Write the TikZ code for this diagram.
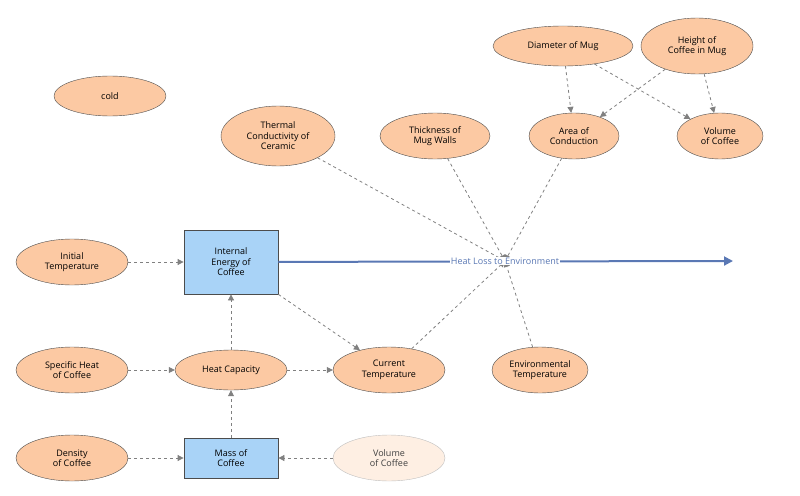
\documentclass[tikz,border=0pt]{standalone}
\usepackage{fontspec}
\setmainfont{Open Sans}
\usetikzlibrary{arrows.meta}
\definecolor{ov}{HTML}{FCC9A3}
\definecolor{bx}{HTML}{A9D3F7}
\definecolor{fl}{HTML}{5A78B4}
\begin{document}
\begin{tikzpicture}[x=1pt,y=-1pt,font=\fontsize{9}{10.5}\selectfont,
 v/.style={ellipse,draw=black!70,fill=ov,align=center,inner sep=1pt},
 s/.style={rectangle,draw=black!70,fill=bx,align=center,thick},
 d/.style={draw=gray,dashed,thick,-{Triangle[length=6pt,width=6pt]}}]
\usetikzlibrary{shapes.geometric}
\useasboundingbox (0,0) rectangle (800,495);
\node[v,minimum width=112,minimum height=40] (cold) at (110,96) {cold};
\node[v,minimum width=114,minimum height=60] (th) at (278,136) {Thermal\\Conductivity of\\Ceramic};
\node[v,minimum width=110,minimum height=46] (tk) at (435,136) {Thickness of\\Mug Walls};
\node[v,minimum width=140,minimum height=40] (dm) at (563,46) {Diameter of Mug};
\node[v,minimum width=112,minimum height=56] (hm) at (697,46) {Height of\\Coffee in Mug};
\node[v,minimum width=90,minimum height=46] (ar) at (574,136) {Area of\\Conduction};
\node[v,minimum width=86,minimum height=46] (vt) at (720,136) {Volume\\of Coffee};
\node[v,minimum width=112,minimum height=46] (it) at (72,262) {Initial\\Temperature};
\node[s,minimum width=94,minimum height=64] (ie) at (231,262) {Internal\\Energy of\\Coffee};
\coordinate (valve) at (505,261);
\coordinate (sink) at (733,261);
\node[v,minimum width=112,minimum height=46] (sh) at (72,370) {Specific Heat\\of Coffee};
\node[v,minimum width=112,minimum height=40] (hc) at (231,370) {Heat Capacity};
\node[v,minimum width=112,minimum height=46] (ct) at (389,370) {Current\\Temperature};
\node[v,minimum width=96,minimum height=46] (et) at (540,370) {Environmental\\Temperature};
\node[v,minimum width=112,minimum height=46] (de) at (72,458) {Density\\of Coffee};
\node[s,minimum width=94,minimum height=40] (ms) at (231,458) {Mass of\\Coffee};
\node[v,draw=black!25,fill=ov!30,text=black!75,minimum width=112,minimum height=46] (vb) at (389,458) {Volume\\of Coffee};
\draw[fl,line width=2pt,-{Triangle[length=9pt,width=9pt]}] (ie) -- (sink);
\foreach \a in {th,tk,ar,ct,et} \draw[d] (\a) -- (valve);
\node[fill=white,inner sep=1pt,text=fl] (lbl) at (505,261) {Heat Loss to Environment};
\draw[d] (it) -- (ie);
\draw[d] (sh) -- (hc);
\draw[d] (hc) -- (ie);
\draw[d] (hc) -- (ct);
\draw[d] (de) -- (ms);
\draw[d] (vb) -- (ms);
\draw[d] (ms) -- (hc);
\draw[d] (ie) -- (ct);
\draw[d] (dm) -- (ar);
\draw[d] (dm) -- (vt);
\draw[d] (hm) -- (ar);
\draw[d] (hm) -- (vt);
\end{tikzpicture}
\end{document}
